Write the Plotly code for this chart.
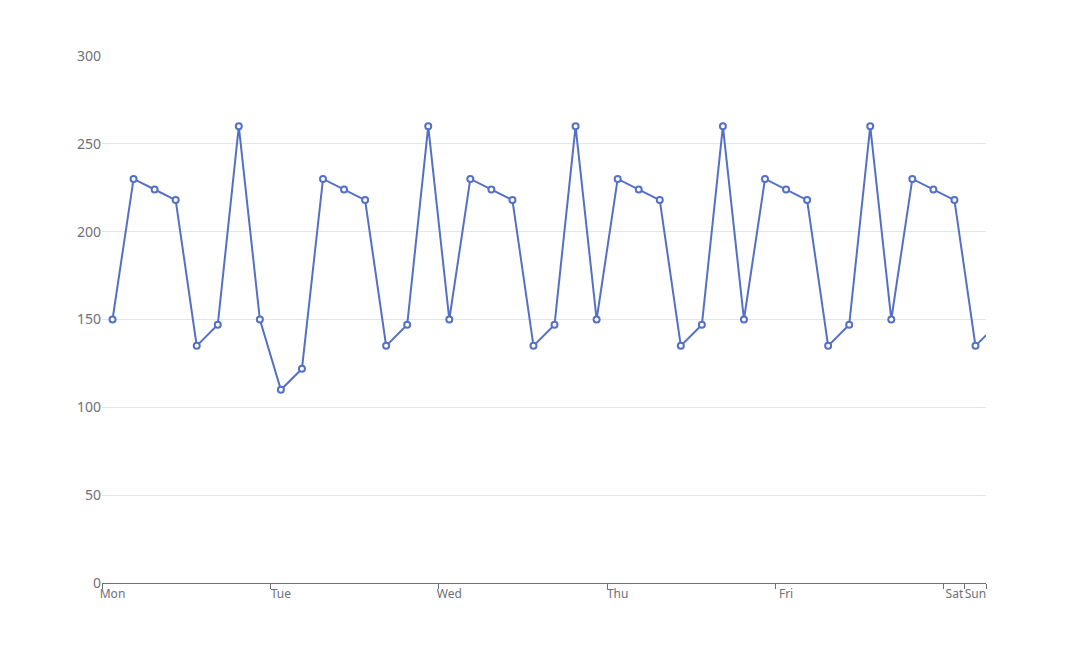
import plotly.graph_objects as go

values = [150,230,224,218,135,147,260,150,110,122,230,224,218,135,147,260,
          150,230,224,218,135,147,260,150,230,224,218,135,147,260,
          150,230,224,218,135,147,260,150,230,224,218,135,147]
label_idx = [0, 8, 16, 24, 32, 40, 41]
label_text = ["Mon", "Tue", "Wed", "Thu", "Fri", "Sat", "Sun"]
n_cat = 42

x = list(range(len(values)))
fig = go.Figure(go.Scatter(
    x=x, y=values, mode="lines+markers",
    line=dict(color="#5470c6", width=2),
    marker=dict(symbol="circle", size=6, color="white",
                line=dict(color="#5470c6", width=2)),
    cliponaxis=True))

fig.update_layout(
    width=1067, height=651, plot_bgcolor="white", paper_bgcolor="white",
    margin=dict(l=94, r=89, t=48, b=76, autoexpand=False), showlegend=False,
    font=dict(family="Microsoft YaHei, Noto Sans, sans-serif", color="#6e7079", size=12),
    xaxis=dict(range=[-0.5, n_cat - 0.5], tickmode="array", tickvals=label_idx,
               ticktext=label_text, ticks="", showgrid=False, zeroline=False,
               tickangle=0, automargin=False,
               showline=True, linecolor="#6e7079", linewidth=1,
               tickfont=dict(size=12, color="#6e7079"),
               minor=dict(tickmode="array",
                          tickvals=[i - 0.5 for i in label_idx] + [n_cat - 0.5],
                          ticks="outside", ticklen=5, tickcolor="#6e7079",
                          showgrid=False)),
    yaxis=dict(range=[0, 300], tickvals=[0, 50, 100, 150, 200, 250, 300],
               showgrid=True, gridcolor="#e0e6f1", zeroline=False, automargin=False,
               ticks="", tickfont=dict(size=14, color="#6e7079")),
)
fig.write_html("out.html")
